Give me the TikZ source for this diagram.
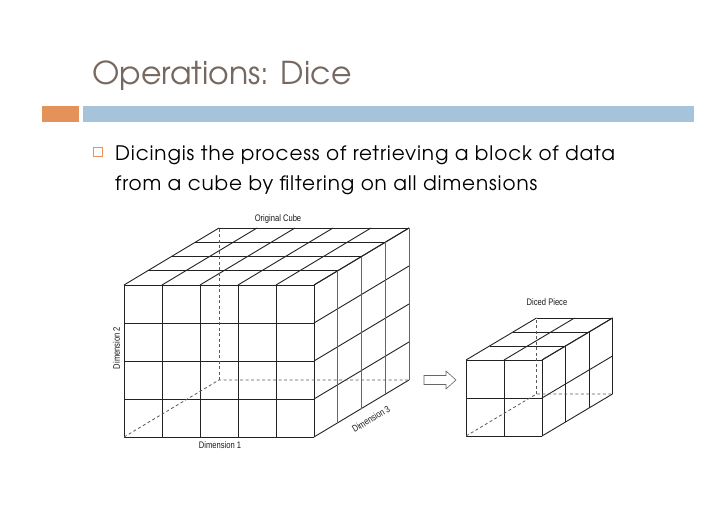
\documentclass[tikz,border=0pt]{standalone}
\usepackage{fontspec}
\newfontfamily\adv{TeX Gyre Adventor}
\newfontfamily\advs[LetterSpace=4.3]{TeX Gyre Adventor}
\newfontfamily\lab[FakeStretch=0.8]{Liberation Sans}
\definecolor{titlec}{HTML}{76685F}
\definecolor{orangec}{HTML}{E5915A}
\definecolor{bluec}{HTML}{A5C3DB}
\definecolor{linec}{HTML}{222222}
\begin{document}
\begin{tikzpicture}[x=1pt,y=-1pt,
  cl/.style={draw=linec,line width=0.9pt},
  gl/.style={draw=black!60,line width=0.9pt},
  hid/.style={draw=black!65,line width=0.8pt,dash pattern=on 3pt off 2.5pt},
  dimlab/.style={font=\lab\fontsize{9.5}{11}\selectfont,inner sep=0,text=black!90},
  body/.style={anchor=base west,inner sep=0,font=\advs\fontsize{20}{24}\selectfont}]
\useasboundingbox (0,0) rectangle (728,514);
% header
\fill[orangec] (41.5,106) rectangle (79,121.5);
\fill[bluec] (83,106) rectangle (694,121.5);
\node[anchor=base west,text=titlec,inner sep=0,font=\adv\fontsize{31.5}{38}\selectfont] (title) at (92,84) {Operations: Dice};
% bullet
\node[draw=orangec,line width=0.7pt,minimum size=9.5pt,inner sep=0] (bullet) at (97.7,152) {};
\node[body] (l1) at (115,160) {Dicingis the process of retrieving a block of data};
\node[body] (l2) at (115,190) {from a cube by filtering on all dimensions};
% original cube
\foreach \i in {0,...,5} \draw[cl] ({124+38*\i},285) -- ++(0,152);
\foreach \j in {0,...,4} \draw[cl] (124,{285+38*\j}) -- ++(190,0);
\foreach \i in {0,...,5} \draw[cl] ({124+38*\i},285) -- ++(95,-57);
\foreach \k in {1,...,4} \draw[cl] ({124+23.75*\k},{285-14.25*\k}) -- ++(190,0);
\foreach \j in {0,...,4} \draw[cl] (314,{285+38*\j}) -- ++(95,-57);
\foreach \k in {1,...,4} \draw[gl] ({314+23.75*\k},{285-14.25*\k}) -- ++(0,152);
\coordinate (ob) at (219,380);
\coordinate (ofl) at (124,437);
\coordinate (obr) at (409,380);
\coordinate (otl) at (219,228);
\draw[hid] (ofl) -- (ob) -- (obr);
\draw[hid] (ob) -- (otl);
\node[dimlab] (oc) at (278,219) {Original Cube};
\node[dimlab] (d1) at (220,445.5) {Dimension 1};
\node[dimlab,rotate=90] (d2) at (116.5,348) {Dimension 2};
\node[dimlab,rotate=31] (d3) at (371,419) {Dimension 3};
% arrow
\draw[black!60,line width=0.6pt] (424,375.5) -- (446,375.5) -- (446,371) -- (456,380) -- (446,389) -- (446,384.5) -- (424,384.5) -- cycle;
% diced piece
\foreach \i in {0,1,2} \draw[cl] ({466+38*\i},360) -- ++(0,76);
\foreach \j in {0,1,2} \draw[cl] (466,{360+38*\j}) -- ++(76,0);
\foreach \i in {0,1,2} \draw[cl] ({466+38*\i},360) -- ++(70.5,-42);
\foreach \k in {1,2,3} \draw[cl] ({466+23.5*\k},{360-14*\k}) -- ++(76,0);
\foreach \j in {0,1,2} \draw[cl] (542,{360+38*\j}) -- ++(70.5,-42);
\foreach \k in {1,2,3} \draw[cl] ({542+23.5*\k},{360-14*\k}) -- ++(0,76);
\coordinate (pb) at (536.5,394);
\coordinate (pfl) at (466,436);
\coordinate (pbr) at (612.5,394);
\coordinate (ptl) at (536.5,318);
\draw[hid] (pfl) -- (pb) -- (pbr);
\draw[hid] (pb) -- (ptl);
\node[dimlab] (dp) at (547,302) {Diced Piece};
\end{tikzpicture}
\end{document}
